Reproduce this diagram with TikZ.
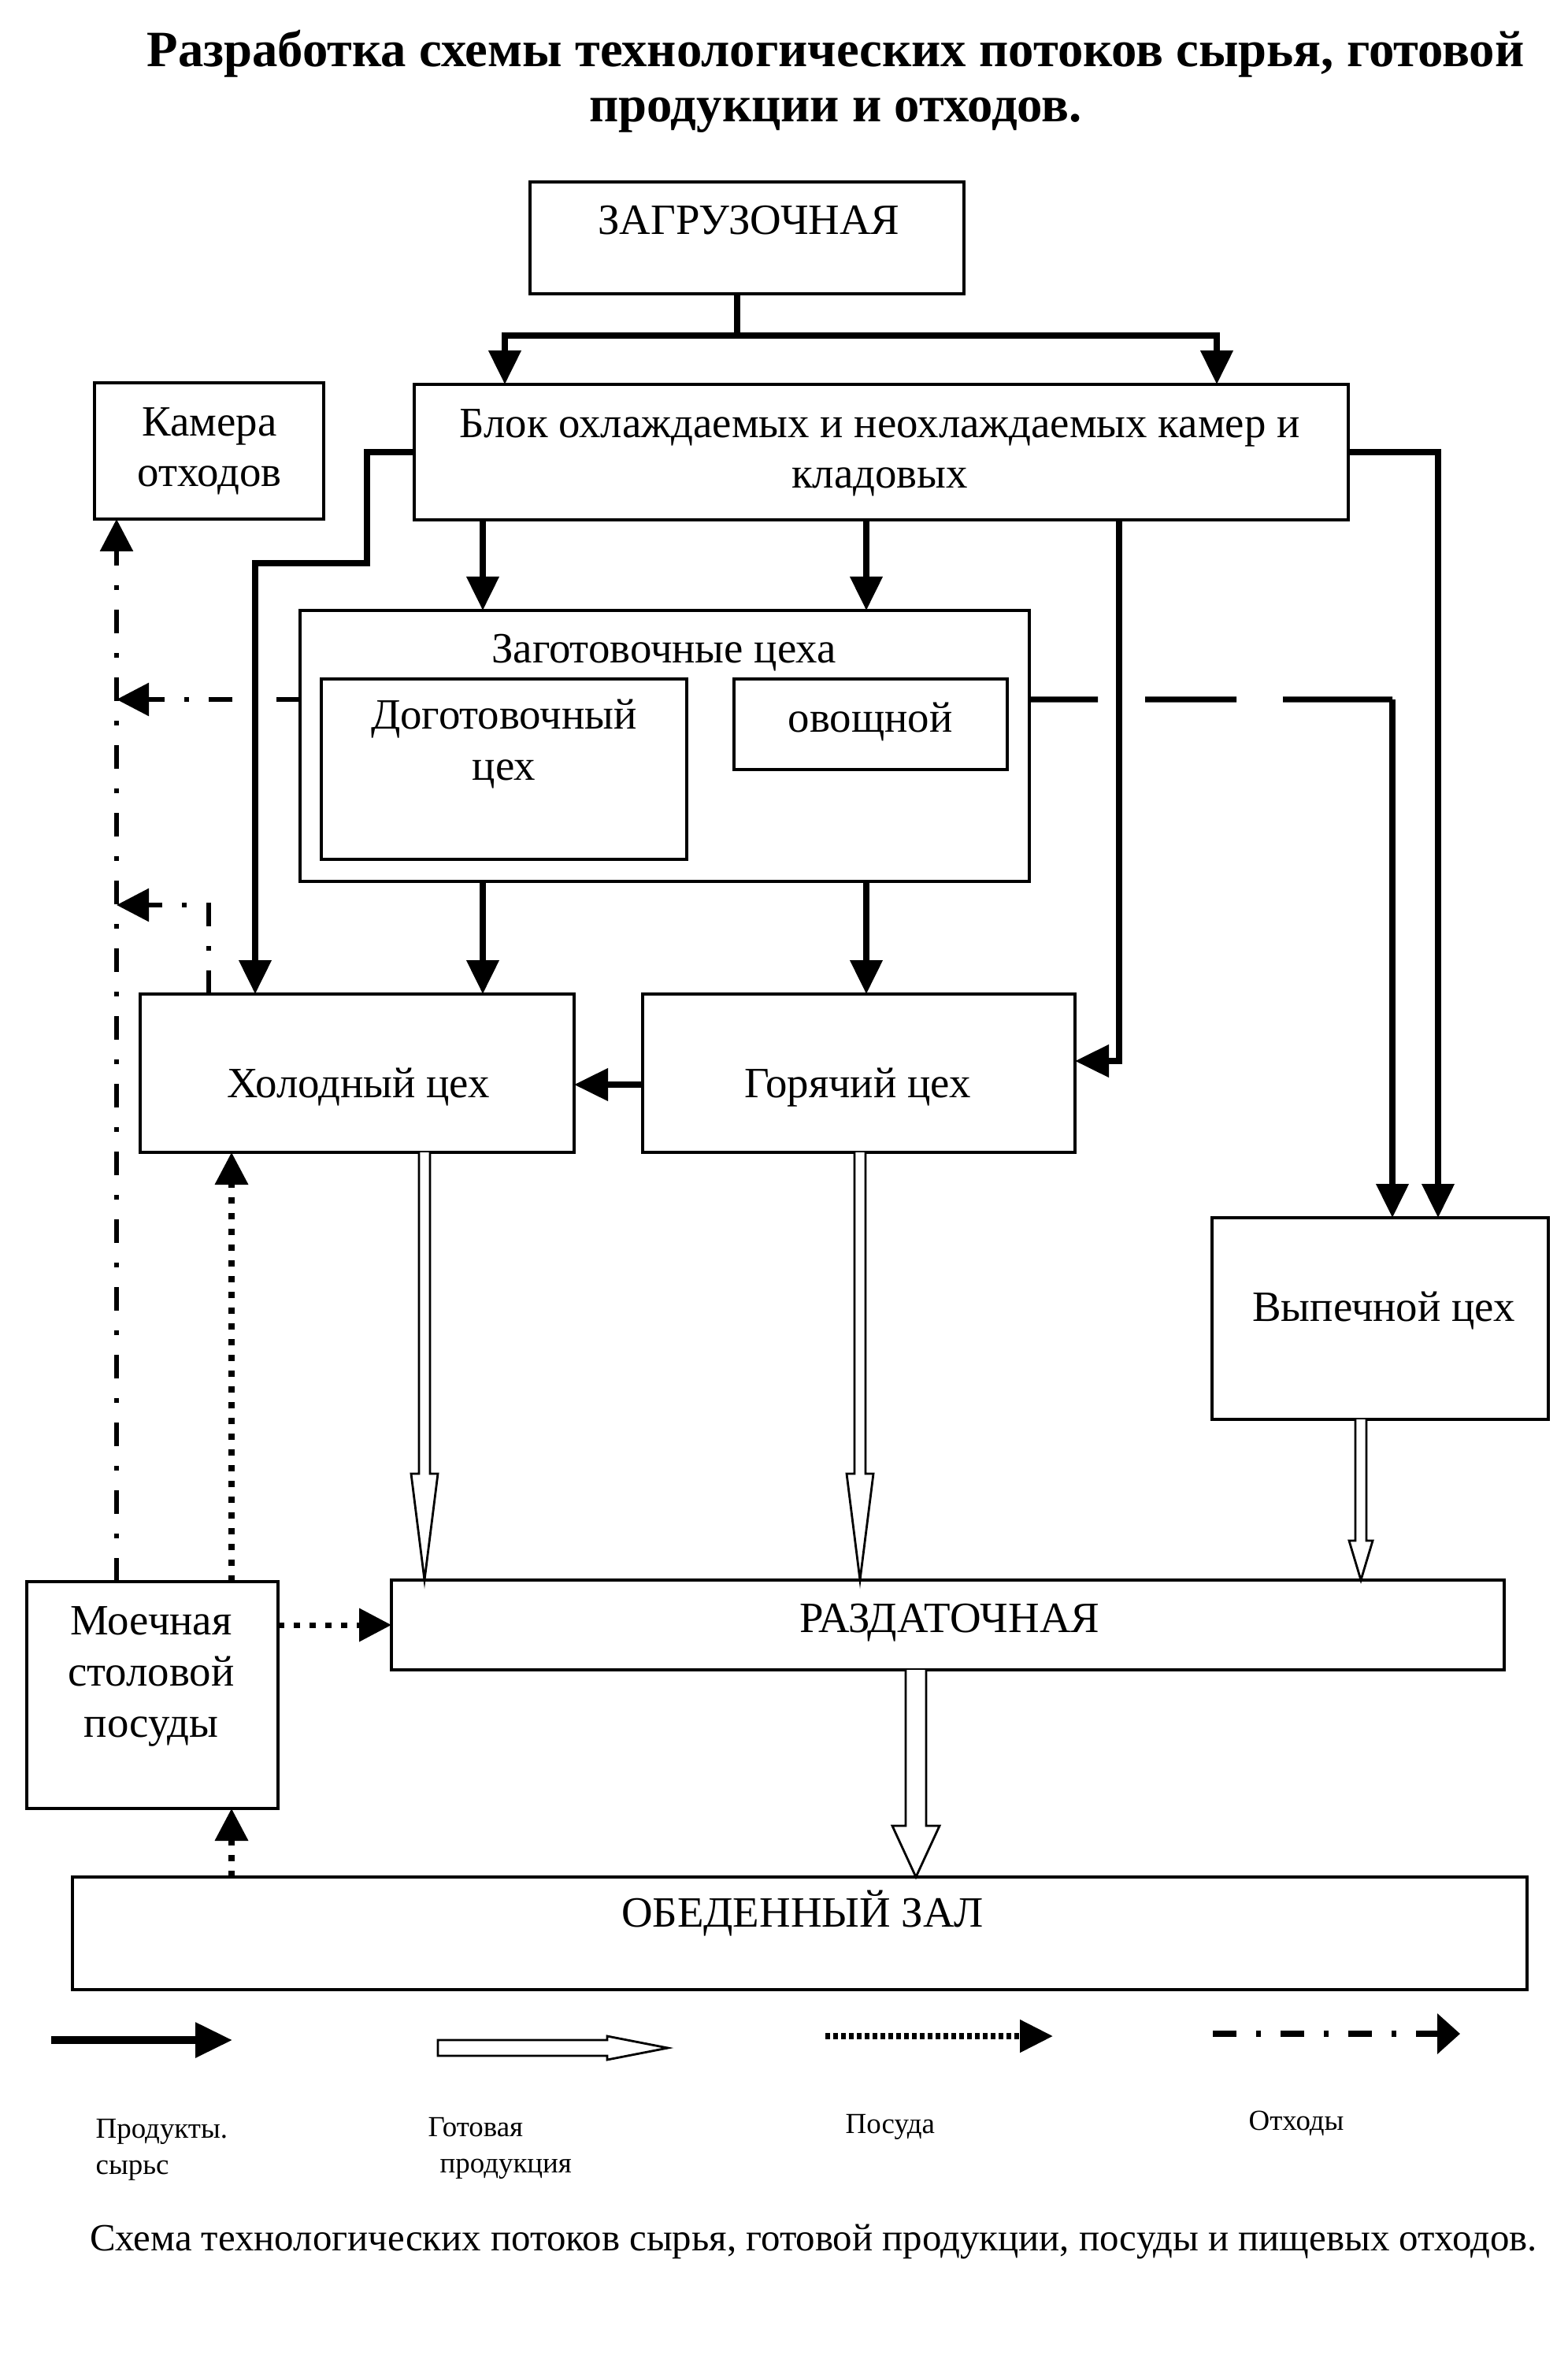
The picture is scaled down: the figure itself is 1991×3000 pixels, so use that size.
\documentclass[tikz,border=0pt]{standalone}
\usepackage{fontspec}
\setmainfont{Liberation Serif}
\usepackage{tikz}
\usetikzlibrary{arrows.meta,calc}

\tikzset{
  box/.style={draw, line width=0.9pt, inner sep=0, outer sep=0},
  lbl/.style={font=\fontsize{15.6}{18.4}\selectfont, anchor=base, inner sep=0, align=center},
  prod/.style={line width=2.1pt, -{Triangle[length=4.3mm,width=4mm]}},
  waste/.style={line width=1.7pt, dash pattern=on 3mm off 2.5mm on 0.6mm off 2.5mm, -{Triangle[length=4.1mm,width=4.1mm]}},
  dish/.style={line width=2pt, dash pattern=on 0.8mm off 1.2mm, -{Triangle[length=4.1mm,width=4.1mm]}},
}

% hollow arrow pointing down: start, tip, body half width, head half width, head length
\newcommand{\readydown}[5]{%
  \draw[line width=0.8pt, fill=white] let \p1=#1, \p2=#2 in
    (\x1-#3,\y1) -- (\x1-#3,\y2+#5) -- (\x1-#4,\y2+#5) -- (\x1,\y2) --
    (\x1+#4,\y2+#5) -- (\x1+#3,\y2+#5) -- (\x1+#3,\y1);}

\begin{document}
\begin{tikzpicture}[x=0.1mm, y=-0.1mm]

  \useasboundingbox (0,0) rectangle (1991,3000);

  % Title
  \node[anchor=base, align=center, inner sep=0, font=\fontsize{18.4}{20}\selectfont\bfseries] (title) at (1061,155)
    {Разработка схемы технологических потоков сырья, готовой\\продукции и отходов.};

  % Rooms
  \node[box, minimum width=55.1mm, minimum height=14.2mm] (zagr) at (948.5,302) {};
  \node[box, minimum width=118.6mm, minimum height=17.2mm] (blok) at (1119,574) {};
  \node[box, minimum width=29.1mm, minimum height=17.3mm] (kam) at (265.5,572.5) {};
  \node[box, minimum width=92.6mm, minimum height=34.4mm] (zagot) at (844,947) {};
  \node[box, minimum width=46.4mm, minimum height=22.9mm] (dogot) at (640,976.5) {};
  \node[box, minimum width=34.7mm, minimum height=11.5mm] (ovosh) at (1105.5,919.5) {};
  \node[box, minimum width=55.1mm, minimum height=20.1mm] (holod) at (453.5,1362.5) {};
  \node[box, minimum width=54.9mm, minimum height=20.1mm] (gor) at (1090.5,1362.5) {};
  \node[box, minimum width=42.7mm, minimum height=25.6mm] (vyp) at (1752.5,1674) {};
  \node[box, minimum width=141.3mm, minimum height=11.4mm] (razd) at (1203.5,2063) {};
  \node[box, minimum width=31.9mm, minimum height=28.8mm] (moech) at (193.5,2152) {};
  \node[box, minimum width=184.7mm, minimum height=14.3mm] (zal) at (1015.5,2454.5) {};

  % Labels (base = last line)
  \node[lbl] (zagrT) at (951,298) {ЗАГРУЗОЧНАЯ};
  \node[lbl] (blokT) at (1117,620) {Блок охлаждаемых и неохлаждаемых камер и\\кладовых};
  \node[lbl] (kamT) at (266,618) {Камера\\отходов};
  \node[lbl] (zagotT) at (843,841) {Заготовочные цеха};
  \node[lbl] (dogotT) at (640,990) {Доготовочный\\цех};
  \node[lbl] (ovoshT) at (1105,929) {овощной};
  \node[lbl] (holodT) at (455,1393) {Холодный цех};
  \node[lbl] (gorT) at (1089,1393) {Горячий цех};
  \node[lbl] (vypT) at (1757,1677) {Выпечной цех};
  \node[lbl] (razdT) at (1206,2072) {РАЗДАТОЧНАЯ};
  \node[lbl] (moechT) at (192,2205) {Моечная\\столовой\\посуды};
  \node[lbl] (zalT) at (1019,2446) {ОБЕДЕННЫЙ ЗАЛ};

  % Guide coordinates
  \coordinate (fork) at (936,426);
  \coordinate (cL) at (641,0);
  \coordinate (cR) at (1545,0);
  \coordinate (jog) at (466,715);
  \coordinate (cHolL) at (324,0);
  \coordinate (cA) at (613,0);
  \coordinate (cB) at (1100,0);
  \coordinate (cC) at (1421,0);
  \coordinate (cD) at (1826,0);
  \coordinate (turnV) at (1768,888);
  \coordinate (cW) at (148,0);
  \coordinate (wTurn) at (265,1149);
  \coordinate (cP) at (294,0);
  \coordinate (rHol) at (539,0);
  \coordinate (rGor) at (1092,0);
  \coordinate (rVyp) at (1728,0);
  \coordinate (rZal) at (1163,0);
  \coordinate (zagOutL) at ([yshift=5.9mm]zagot.west);
  \coordinate (zagOutR) at ([yshift=5.9mm]zagot.east);

  % Products, raw materials
  \draw[line width=2.1pt] (zagr.south -| fork) -- (fork);
  \draw[prod, {Triangle[length=4.3mm,width=4mm]}-{Triangle[length=4.3mm,width=4mm]}]
    (blok.north -| cL) |- (fork) -| (blok.north -| cR);
  \draw[prod] (blok.west) -| (jog) -| (holod.north -| cHolL);
  \draw[prod] (blok.south -| cA) -- (zagot.north -| cA);
  \draw[prod] (blok.south -| cB) -- (zagot.north -| cB);
  \draw[prod] (blok.south -| cC) |- ([yshift=1.55mm]gor.east);
  \draw[prod] (blok.east) -| (vyp.north -| cD);
  \draw[line width=2.1pt, dash pattern=on 8.7mm off 6mm on 11.6mm off 5.9mm on 20mm] (zagOutR) -- (turnV);
  \draw[prod] (turnV) -- (vyp.north -| turnV);
  \draw[prod] (zagot.south -| cA) -- (holod.north -| cA);
  \draw[prod] (zagot.south -| cB) -- (gor.north -| cB);
  \draw[prod] ([yshift=-1.45mm]gor.west) -- ([yshift=-1.45mm]holod.east);

  % Ready products
  \readydown{(holod.south -| rHol)}{(razd.north -| rHol)}{0.7mm}{1.7mm}{13.5mm}
  \readydown{(gor.south -| rGor)}{(razd.north -| rGor)}{0.7mm}{1.7mm}{13.5mm}
  \readydown{(vyp.south -| rVyp)}{(razd.north -| rVyp)}{0.7mm}{1.5mm}{5mm}
  \readydown{(razd.south -| rZal)}{(zal.north -| rZal)}{1.3mm}{3mm}{6.5mm}

  % Waste
  \draw[waste] (moech.north -| cW) -- (kam.south -| cW);
  \draw[waste] (zagOutL) -- (zagOutL -| cW);
  \draw[waste] (holod.north -| wTurn) -- (wTurn) -- (wTurn -| cW);

  % Dishes
  \draw[dish] (moech.north -| cP) -- (holod.south -| cP);
  \draw[dish] (razd.west -| moech.east) -- (razd.west);
  \draw[dish] (zal.north -| cP) -- (moech.south -| cP);

  % Legend
  \coordinate (lgA1) at (65,2590);   \coordinate (lgA2) at (295,2590);
  \coordinate (lgB1) at (556,2600);  \coordinate (lgB2) at (848,2600);
  \coordinate (lgC1) at (1048,2585); \coordinate (lgC2) at (1337,2585);
  \coordinate (lgD1) at (1540,2582); \coordinate (lgD2) at (1854,2582);
  \draw[line width=2.6pt, -{Triangle[length=4.7mm,width=4.3mm]}] (lgA1) -- (lgA2);
  \draw[line width=0.8pt, fill=white] (lgB1) ++(0,-10) -- ++(215,0) -- ++(0,-5) -- (lgB2)
    -- ++(-77,15) -- ++(0,-5) -- ++(-215,0) -- cycle;
  \draw[line width=2.3pt, dash pattern=on 0.55mm off 0.45mm, -{Triangle[length=4.2mm,width=4mm]}] (lgC1) -- (lgC2);
  \draw[waste, line width=2.2pt, -{Triangle[length=2.9mm,width=5mm]}] (lgD1) -- (lgD2);

  \node[anchor=base west, inner sep=0, align=left, font=\fontsize{10.5}{13}\selectfont] (lgAT) at (121,2760) {Продукты.\\сырьс};
  \node[anchor=base west, inner sep=0, align=left, font=\fontsize{10.5}{13}\selectfont] (lgBT) at (543,2758) {Готовая\\\hspace*{1.5mm}продукция};
  \node[anchor=base west, inner sep=0, font=\fontsize{10.5}{12.6}\selectfont] (lgCT) at (1073,2708) {Посуда};
  \node[anchor=base west, inner sep=0, font=\fontsize{10.5}{12.6}\selectfont] (lgDT) at (1585,2704) {Отходы};

  % Caption
  \node[anchor=base, inner sep=0, font=\fontsize{13.9}{16}\selectfont] (caption) at (1033,2857)
    {Схема технологических потоков сырья, готовой продукции, посуды и пищевых отходов.};

\end{tikzpicture}
\end{document}
